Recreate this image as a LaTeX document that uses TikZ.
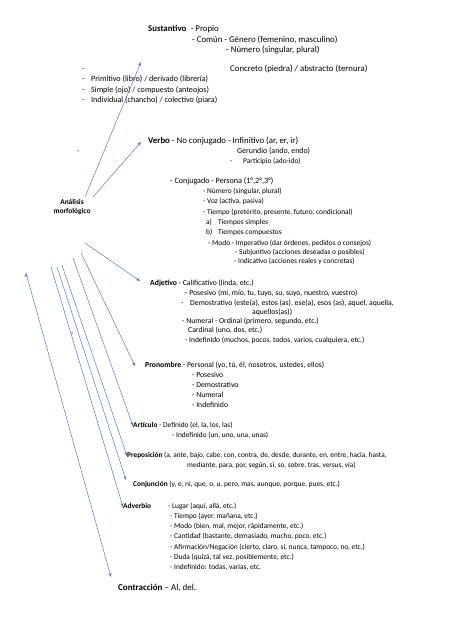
\documentclass[tikz,border=0pt]{standalone}
\usepackage{fontspec}
\setmainfont{Carlito}
\usetikzlibrary{positioning,arrows.meta}
\definecolor{linkblue}{RGB}{86,122,196}

\begin{document}
\begin{tikzpicture}[x=1pt, y=-1pt,
                    txt/.style={anchor=west, inner sep=0pt, text height=5.4pt, text depth=1.6pt,
                                font=\fontsize{#1}{10}\selectfont},
                    txt/.default=7.4,
                    title node/.style={align=center, inner sep=0pt, font=\fontsize{7.4}{9.6}\selectfont\bfseries},
                    link/.style={draw=linkblue, line width=0.5pt, -{Stealth[length=4pt,width=3pt]}}]

  \useasboundingbox (0,0) rectangle (474,632);

  % centre
  \node[title node] (am) at (72,207) {Análisis\\morfológico};

  % sustantivo
  \node[txt=8.8] (sust) at (148,30) {\textbf{Sustantivo}\enspace - Propio};
  \node[txt=8.8] (s1) at (192,41) {- Común - Género (femenino, masculino)};
  \node[txt=8.8] (s2) at (226,51) {- Número (singular, plural)};
  \node[txt=8.1] (s3) at (82,70) {-};
  \node[txt=8.8] (s4) at (230,70) {Concreto (piedra) / abstracto (ternura)};
  \node[txt=8.1] (s5) at (82,80) {\makebox[9pt][l]{-}Primitivo (libro) / derivado (librería)};
  \node[txt=8.1] (s6) at (82,91) {\makebox[9pt][l]{-}Simple (ojo) / compuesto (anteojos)};
  \node[txt=8.1] (s7) at (82,101) {\makebox[9pt][l]{-}Individual (chancho) / colectivo (piara)};

  % verbo
  \node[txt] (v0) at (77,152) {-};
  \node[txt=8.8] (verbo) at (148,142) {\textbf{Verbo} - No conjugado - Infinitivo (ar, er, ir)};
  \node[txt=7.9] (v1) at (237,152) {Gerundio (ando, endo)};
  \node[txt] (v2) at (230,162) {\makebox[13pt][l]{-}Participio (ado-ido)};
  \node[txt=8.1] (v3) at (170,182) {- Conjugado - Persona (1°,2°,3°)};
  \node[txt] (v4) at (203,192) {- Número (singular, plural)};
  \node[txt] (v5) at (203,202) {- Voz (activa, pasiva)};
  \node[txt] (v6) at (203,213) {- Tiempo (pretérito, presente, futuro, condicional)};
  \node[txt] (v7) at (206,223) {\makebox[12pt][l]{a)}Tiempos simples};
  \node[txt] (v8) at (206,233) {\makebox[12pt][l]{b)}Tiempos compuestos};
  \node[txt] (v9) at (208,244) {- Modo - Imperativo (dar órdenes, pedidos o consejos)};
  \node[txt] (v10) at (235,253) {- Subjuntivo (acciones deseadas o posibles)};
  \node[txt] (v11) at (234,262) {- Indicativo (acciones reales y concretas)};

  % adjetivo
  \node[txt=7.7] (adj) at (150,284) {\textbf{Adjetivo} - Calificativo (linda, etc.)};
  \node[txt=7.7] (a1) at (185,294) {- Posesivo (mi, mío, tu, tuyo, su, suyo, nuestro, vuestro)};
  \node[txt=7.7] (a2) at (181,304) {\makebox[9pt][l]{-}Demostrativo (este(a), estos (as), ese(a), esos (as), aquel, aquella,};
  \node[txt=7.7] (a3) at (252,313) {aquellos(as))};
  \node[txt=7.7] (a4) at (182,322) {- Numeral - Ordinal (primero, segundo, etc.)};
  \node[txt=7.7] (a5) at (188,331) {Cardinal (uno, dos, etc.)};
  \node[txt=7.5] (a6) at (185,341) {- Indefinido (muchos, pocos, todos, varios, cualquiera, etc.)};
  \node[txt] (a0) at (71,334) {-};

  % pronombre
  \node[txt=7.7] (pron) at (145,366) {\textbf{Pronombre} - Personal (yo, tú, él, nosotros, ustedes, ellos)};
  \node[txt=7.7] (p1) at (192,376) {- Posesivo};
  \node[txt=7.7] (p2) at (192,386) {- Demostrativo};
  \node[txt=7.7] (p3) at (192,396) {- Numeral};
  \node[txt=7.7] (p4) at (192,406) {- Indefinido};

  % articulo, preposicion, conjuncion
  \node[txt] (art) at (133,426) {\textbf{Artículo} - Definido (el, la, los, las)};
  \node[txt] (r1) at (172,436) {- Indefinido (un, uno, una, unas)};
  \node[txt=7.3] (prep) at (127,456) {\textbf{Preposición} (a, ante, bajo, cabe, con, contra, de, desde, durante, en, entre, hacia, hasta,};
  \node[txt=7.3] (r2) at (187,466) {mediante, para, por, según, si, so, sobre, tras, versus, vía)};
  \node[txt] (conj) at (133,485) {\textbf{Conjunción} (y, e, ni, que, o, u, pero, mas, aunque, porque, pues, etc.)};

  % adverbio
  \node[txt] (adv) at (123,507) {\textbf{Adverbio}};
  \node[txt] (d0) at (168,507) {- Lugar (aquí, allá, etc.)};
  \node[txt] (d1) at (170,517) {- Tiempo (ayer, mañana, etc.)};
  \node[txt] (d2) at (170,527) {- Modo (bien, mal, mejor, rápidamente, etc.)};
  \node[txt] (d3) at (170,537) {- Cantidad (bastante, demasiado, mucho, poco, etc.)};
  \node[txt] (d4) at (170,548) {- Afirmación/Negación (cierto, claro, si, nunca, tampoco, no, etc.)};
  \node[txt] (d5) at (170,558) {- Duda (quizá, tal vez, posiblemente, etc.)};
  \node[txt] (d6) at (170,568) {- Indefinido: todas, varias, etc.};

  \node[txt=9] (contr) at (118,589) {\textbf{Contracción} – Al, del.};

  % arrow tails
  \coordinate (t1) at (85,197);
  \coordinate (t2) at (93,197);
  \coordinate (t3) at (85,243);
  \coordinate (t4) at (81,253);
  \coordinate (t5) at (73,258);
  \coordinate (t6) at (62,265);
  \coordinate (t7) at (57,267);
  \coordinate (t8) at (51,267);
  \coordinate (t9) at (26,273);

  \path[link]
    (t1) edge ([shift={(-7pt,-32pt)}]sust.west)
    (t2) edge ([xshift=-7pt]verbo.west)
    (t3) edge ([shift={(-10pt,3pt)}]adj.west)
    (t4) edge ([xshift=-10pt]pron.west)
    (t5) edge (art.west)
    (t6) edge (prep.west)
    (t7) edge ([shift={(-7pt,5pt)}]conj.west)
    (t8) edge (adv.west)
    (t9) edge ([shift={(-7pt,12pt)}]contr.west)
;
\end{tikzpicture}
\end{document}
